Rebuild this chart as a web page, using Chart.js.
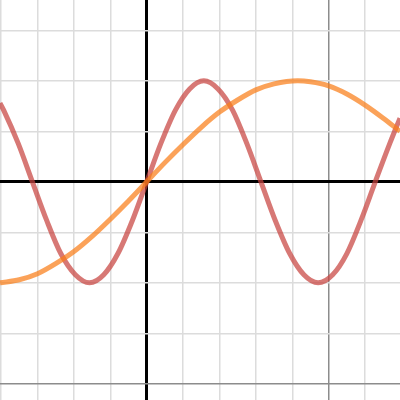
<!DOCTYPE html>
<html>
<head>
<meta charset="utf-8">
<script src="https://cdn.jsdelivr.net/npm/chart.js@4"></script>
<style>
  html, body { margin: 0; padding: 0; background: #fff; }
  #graph { display: block; }
</style>
</head>
<body>
<canvas id="graph" width="400" height="400"></canvas>
<script>
/* Two wave curves on a graph-paper grid */

// red wave
const redX = [-4.03, -3.93, -3.53, -3.14, -2.75, -2.36, -1.96, -1.57, -1.18, -0.79, -0.39, 0,
              0.39, 0.79, 1.18, 1.57, 1.96, 2.36, 2.75, 3.14, 3.53, 3.93, 4.32, 4.71,
              5.11, 5.50, 5.89, 6.28, 6.68, 6.96];
const redY = [0.78, 0.71, 0.38, 0, -0.38, -0.71, -0.92, -1.0, -0.92, -0.71, -0.38, 0,
              0.38, 0.71, 0.92, 1.0, 0.92, 0.71, 0.38, 0, -0.38, -0.71, -0.92, -1.0,
              -0.92, -0.71, -0.38, 0, 0.38, 0.63];

// orange wave
const orangeX = [-4.03, -3.5, -3.0, -2.5, -2.0, -1.5, -1.0, -0.5, 0, 0.5, 1.0, 1.5,
                 2.0, 2.5, 3.0, 3.5, 4.15, 4.5, 5.0, 5.5, 6.0, 6.5, 6.96];
const orangeY = [-1.0, -0.97, -0.91, -0.81, -0.69, -0.54, -0.37, -0.19, 0, 0.19, 0.37, 0.54,
                 0.69, 0.81, 0.91, 0.97, 1.0, 0.99, 0.95, 0.87, 0.76, 0.63, 0.5];

// visible window and grid steps
const xRange = [-4.03, 6.96];
const yRange = [-2.16, 1.8];
const xStep = 1;
const yStep = 0.5;

function toPoints(xs, ys) {
    return xs.map(function (x, i) { return { x: x, y: ys[i] }; });
}

function gridColor(major) {
    return function (ctx) {
        const v = ctx.tick ? ctx.tick.value : null;
        if (v === null) return 'rgba(0,0,0,0)';
        if (Math.abs(v) < 1e-9) return '#000000';
        if (Math.abs(v / major - Math.round(v / major)) < 1e-9) return '#8c8c8c';
        return '#dcdcdc';
    };
}

function gridWidth(ctx) {
    const v = ctx.tick ? ctx.tick.value : null;
    return (v !== null && Math.abs(v) < 1e-9) ? 3 : 1.5;
}

new Chart(document.getElementById('graph').getContext('2d'), {
    type: 'scatter',
    data: {
        datasets: [{
            label: 'orange',
            data: toPoints(orangeX, orangeY),
            showLine: true,
            borderColor: 'rgba(250,126,25,0.72)',
            borderWidth: 5,
            pointRadius: 0,
            cubicInterpolationMode: 'monotone'
        }, {
            label: 'red',
            data: toPoints(redX, redY),
            showLine: true,
            borderColor: 'rgba(199,68,64,0.72)',
            borderWidth: 5,
            pointRadius: 0,
            cubicInterpolationMode: 'monotone'
        }]
    },
    options: {
        responsive: false,
        animation: false,
        layout: { padding: 0 },
        plugins: {
            legend: { display: false },
            tooltip: { enabled: false }
        },
        scales: {
            x: {
                type: 'linear',
                min: xRange[0],
                max: xRange[1],
                border: { display: false },
                ticks: { display: false, stepSize: xStep, includeBounds: false },
                grid: { color: gridColor(5), lineWidth: gridWidth, drawTicks: false }
            },
            y: {
                type: 'linear',
                min: yRange[0],
                max: yRange[1],
                border: { display: false },
                ticks: { display: false, stepSize: yStep, includeBounds: false },
                grid: { color: gridColor(2), lineWidth: gridWidth, drawTicks: false }
            }
        }
    }
});
</script>
</body>
</html>
